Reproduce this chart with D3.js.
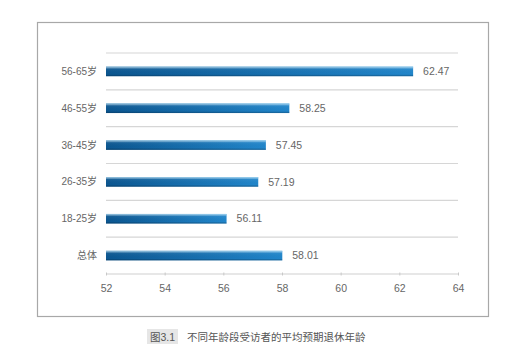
<!DOCTYPE html>
<html>
<head>
<meta charset="utf-8">
<script src="https://cdn.jsdelivr.net/npm/d3@7"></script>
<style>
  body { margin: 0; background: #fff; }
  text { font-family: "Liberation Sans", "Noto Sans CJK SC", sans-serif; }
</style>
</head>
<body>
<svg id="chart" width="520" height="364"></svg>
<script>
var categories = ["56-65岁", "46-55岁", "36-45岁", "26-35岁", "18-25岁", "总体"];
var values = [62.47, 58.25, 57.45, 57.19, 56.11, 58.01];
var xTicks = [52, 54, 56, 58, 60, 62, 64];
var captionTag = "图3.1";
var captionText = "不同年龄段受访者的平均预期退休年龄";

var svg = d3.select("#chart");
var plotLeft = 106, plotRight = 458, plotTop = 53, plotBottom = 274;

var x = d3.scaleLinear().domain([52, 64]).range([plotLeft, plotRight]);
var y = d3.scaleBand().domain(categories).range([plotTop, plotBottom]).paddingInner(0.74).paddingOuter(0.37);

// gradient for bars
var defs = svg.append("defs");
var grad = defs.append("linearGradient").attr("id", "barGrad")
    .attr("x1", "0").attr("x2", "1").attr("y1", "0").attr("y2", "0");
grad.append("stop").attr("offset", "0%").attr("stop-color", "#0b5690");
grad.append("stop").attr("offset", "100%").attr("stop-color", "#2186cb");
var shade = defs.append("linearGradient").attr("id", "shadeGrad")
    .attr("x1", "0").attr("x2", "0").attr("y1", "0").attr("y2", "1");
shade.append("stop").attr("offset", "0%").attr("stop-color", "#bfe8fb").attr("stop-opacity", 0.8);
shade.append("stop").attr("offset", "25%").attr("stop-color", "#ffffff").attr("stop-opacity", 0.05);
shade.append("stop").attr("offset", "80%").attr("stop-color", "#000000").attr("stop-opacity", 0.0);
shade.append("stop").attr("offset", "100%").attr("stop-color", "#00203c").attr("stop-opacity", 0.35);

// frame
svg.append("rect").attr("x", 37.5).attr("y", 22.5).attr("width", 451).attr("height", 294)
    .attr("fill", "none").attr("stroke", "#a8a8a8").attr("stroke-width", 1.2);

// horizontal separator lines
var seps = d3.range(categories.length).map(function(i) { return plotTop + i * y.step(); });
svg.selectAll("line.sep").data(seps).enter().append("line")
    .attr("class", "sep")
    .attr("x1", plotLeft).attr("x2", plotRight)
    .attr("y1", function(d) { return d; }).attr("y2", function(d) { return d; })
    .attr("stroke", "#d6d6d6").attr("stroke-width", 1.2);

// bars
var bars = svg.selectAll("g.bar").data(values).enter().append("g").attr("class", "bar");
bars.append("rect")
    .attr("x", x(52))
    .attr("y", function(d, i) { return y(categories[i]); })
    .attr("width", function(d) { return x(d) - x(52); })
    .attr("height", y.bandwidth())
    .attr("fill", "url(#barGrad)");
bars.append("rect")
    .attr("x", x(52))
    .attr("y", function(d, i) { return y(categories[i]); })
    .attr("width", function(d) { return x(d) - x(52); })
    .attr("height", y.bandwidth())
    .attr("fill", "url(#shadeGrad)");

bars.append("text")
    .attr("x", function(d) { return x(d) + 10; })
    .attr("y", function(d, i) { return y(categories[i]) + y.bandwidth() / 2; })
    .attr("dy", "0.35em")
    .attr("font-size", 10.5)
    .attr("fill", "#666")
    .text(function(d) { return d.toFixed(2); });

// category labels
svg.selectAll("text.cat").data(categories).enter().append("text")
    .attr("class", "cat")
    .attr("x", 97)
    .attr("y", function(d) { return y(d) + y.bandwidth() / 2; })
    .attr("dy", "0.35em")
    .attr("text-anchor", "end")
    .attr("font-size", 10)
    .attr("fill", "#666")
    .text(function(d) { return d; });

// x axis
var axis = svg.append("g").attr("transform", "translate(0," + plotBottom + ")")
    .call(d3.axisBottom(x).tickValues(xTicks).tickSize(3).tickPadding(8).tickFormat(d3.format("d")));
axis.select(".domain").attr("stroke", "#d0d0d0").attr("stroke-width", 1.2).attr("d", "M" + plotLeft + ",0H" + plotRight);
axis.selectAll(".tick line").attr("stroke", "#c8c8c8").attr("y1", -1.5).attr("y2", 1.5);
axis.selectAll(".tick text").attr("fill", "#666").attr("font-size", 10.5)
    .attr("font-family", "'Liberation Sans', sans-serif");

// caption
svg.append("rect").attr("x", 147).attr("y", 329).attr("width", 31).attr("height", 15).attr("fill", "#e6e6e6");
svg.append("text").attr("x", 162.5).attr("y", 337).attr("dy", "0.35em").attr("text-anchor", "middle")
    .attr("font-size", 10.5).attr("fill", "#555").text(captionTag);
svg.append("text").attr("x", 187).attr("y", 337).attr("dy", "0.35em")
    .attr("font-size", 10.5).attr("fill", "#555").text(captionText);
</script>
</body>
</html>
